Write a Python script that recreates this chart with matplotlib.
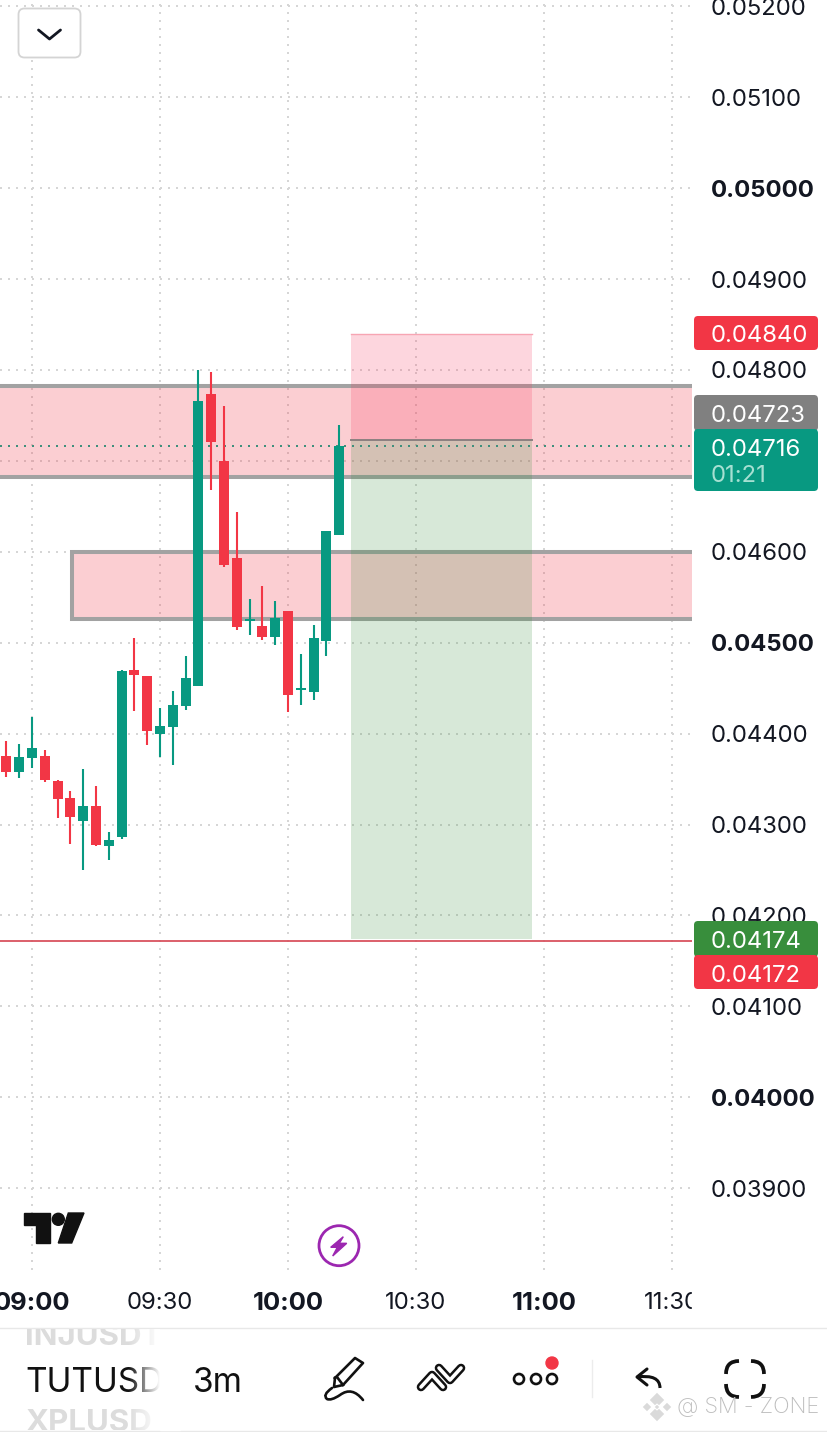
import numpy as np
import matplotlib
matplotlib.use("Agg")
import matplotlib.pyplot as plt
from matplotlib.patches import Rectangle, FancyBboxPatch, Circle, Polygon, PathPatch
from matplotlib.path import Path

plt.rcParams['font.family'] = ['Inter', 'DejaVu Sans']

# candles, one every 3 minutes, bar 0 is 09:00
bars = list(range(-2, 25))
opens = [.04375, .04358, .04373, .04375, .04348, .04329, .04304, .04320, .04276,
         .04286, .04470, .04463, .04400, .04407, .04430, .04452, .04774, .04700,
         .04593, .04524, .04518, .04506, .04535, .04448, .04446, .04502, .04619]
highs = [.04392, .04389, .04418, .04382, .04349, .04337, .04361, .04342, .04292,
         .04470, .04505, .04463, .04428, .04447, .04485, .04800, .04798, .04760,
         .04644, .04548, .04562, .04546, .04535, .04488, .04520, .04623, .04740]
lows = [.04352, .04351, .04362, .04347, .04307, .04279, .04250, .04276, .04261,
        .04284, .04425, .04388, .04374, .04365, .04426, .04452, .04668, .04583,
        .04514, .04508, .04503, .04497, .04424, .04431, .04437, .04485, .04618]
closes = [.04358, .04374, .04384, .04349, .04328, .04308, .04320, .04277, .04283,
          .04469, .04464, .04403, .04408, .04431, .04461, .04766, .04721, .04586,
          .04517, .04526, .04506, .04527, .04442, .04450, .04505, .04623, .04716]

price_ticks = [.052, .051, .050, .049, .048, .047, .046, .045, .044, .043, .042, .041, .040, .039]
price_labels = ['0.05200', '0.05100', '0.05000', '0.04900', '0.04800', '0.04700', '0.04600',
                '0.04500', '0.04400', '0.04300', '0.04200', '0.04100', '0.04000', '0.03900']
bold_prices = ['0.05000', '0.04500', '0.04000']
time_ticks = [0, 10, 20, 30, 40, 50]
time_labels = ['09:00', '09:30', '10:00', '10:30', '11:00', '11:30']
bold_times = ['09:00', '10:00', '11:00']

# drawings on the chart
zone_upper = (.04682, .04782)
zone_lower = (.04526, .04600)
zone_lower_start = 3.1
position_bars = (24.9, 39.05)
position_target = .04840
position_entry = .04723
position_stop = .04174
stop_line = .04172
last_price = .04716

GREEN = '#089981'
RED = '#f23645'
INK = '#131722'
ICON = '#111111'
GRID = '#d6d6d6'
ZONE_EDGE = '#a2a2a2'

fig = plt.figure(figsize=(8.28, 14.32), dpi=100, facecolor='white')

ax = fig.add_axes([0, (1432 - 1270) / 1432, 692 / 828, 1270 / 1432])
ax.set_xlim(-2.5, 51.5625)
ax.set_ylim(.03810, .05207)
for s in ax.spines.values():
    s.set_visible(False)

ax.set_xticks(time_ticks, time_labels)
ax.set_yticks(price_ticks, price_labels)
ax.yaxis.tick_right()
ax.tick_params(axis='x', length=0, pad=15.5, labelsize=17.2, labelcolor=INK)
ax.tick_params(axis='y', length=0, pad=13.5, labelsize=17.2, labelcolor=INK)
for t in ax.get_xticklabels():
    if t.get_text() in bold_times:
        t.set_fontweight('bold')
        t.set_fontsize(18.4)
for t in ax.get_yticklabels():
    if t.get_text() in bold_prices:
        t.set_fontweight('bold')

ax.set_axisbelow(True)
ax.grid(True, color=GRID, lw=1.44, linestyle=(0, (1, 3)), dash_capstyle='butt')

# resistance zones, both run off the right side of the chart
for start, (lo, hi) in [(-6, zone_upper), (zone_lower_start, zone_lower)]:
    ax.add_patch(Rectangle((start, lo), 60 - start, hi - lo,
                           facecolor=RED, alpha=.24, edgecolor='none', zorder=1))
    ax.add_patch(Rectangle((start, lo), 60 - start, hi - lo,
                           fill=False, edgecolor=ZONE_EDGE, lw=2.9, zorder=1.1))

# short position tool
pos_w = position_bars[1] - position_bars[0]
ax.add_patch(Rectangle((position_bars[0], position_entry), pos_w, position_target - position_entry,
                       facecolor='#f7345a', alpha=.2, edgecolor='none', zorder=1.2))
ax.plot(position_bars, [position_target, position_target], color='#f7a5b3', lw=1, zorder=1.3)
ax.add_patch(Rectangle((position_bars[0], position_stop), pos_w, position_entry - position_stop,
                       facecolor='#388e3c', alpha=.2, edgecolor='none', zorder=1.2))
ax.plot(position_bars, [position_entry, position_entry], color='#8c8080', lw=1.4, zorder=1.3)

ax.axhline(stop_line, color='#d9535f', lw=1.3, zorder=1.4)
ax.axhline(last_price, color='#3f8f7c', lw=1.44, linestyle=(0, (1, 3)), zorder=1.4)

# candles
for i, o, h, l, c in zip(bars, opens, highs, lows, closes):
    col = GREEN if c >= o else RED
    ax.plot([i, i], [l, h], color=col, lw=1.5, solid_capstyle='butt', zorder=3)
    ax.bar(i, max(abs(c - o), .00002), bottom=min(o, c), width=.78, color=col, zorder=3)

# everything else is screen furniture, in pixels
ov = fig.add_axes([0, 0, 1, 1])
ov.set_xlim(0, 828)
ov.set_ylim(1432, 0)
ov.axis('off')
ov.patch.set_alpha(0)

# cut the last time label at the price scale
ov.add_patch(Rectangle((692, 1280), 30, 40, color='white', zorder=1))


def tag(y0, y1, color):
    ov.add_patch(FancyBboxPatch((694, y0), 124, y1 - y0, boxstyle='round,pad=0,rounding_size=4',
                                facecolor=color, edgecolor='none', zorder=2))


def tag_text(y, s, color='white'):
    ov.text(711, y, s, color=color, fontsize=17.2, va='center_baseline', ha='left', zorder=3)


tag(316, 350, RED)
tag_text(334, '0.04840')
tag(395, 431, '#808080')
tag_text(413, '0.04723')
tag(429, 491, GREEN)
tag_text(447, '0.04716')
tag_text(474, '01:21', '#a6e0d2')
tag(921, 957, '#388e3c')
tag_text(939, '0.04174')
tag(955, 989, RED)
tag_text(973, '0.04172')

# collapse button
ov.add_patch(FancyBboxPatch((18.5, 8.5), 62, 49, boxstyle='round,pad=0,rounding_size=6',
                            facecolor='white', edgecolor='#d4d4d4', lw=1.3, zorder=2))
ov.plot([38.5, 49.5, 60.5], [30, 39, 30], color=INK, lw=2, solid_capstyle='round', zorder=3)

# logo
ov.add_patch(Polygon([(24, 1213), (50, 1213), (50, 1243), (36, 1243), (36, 1225), (24, 1225)], color=ICON))
ov.add_patch(Circle((58.3, 1219.3), 6, color=ICON))
ov.add_patch(Polygon([(68.3, 1213), (84, 1213), (71.7, 1243), (58.3, 1243)], color=ICON))

# lightning marker
ov.add_patch(Circle((339, 1245.7), 20, facecolor='white', edgecolor='#9c27b0', lw=2))
ov.add_patch(Polygon([(343.3, 1236.7), (330.7, 1247.3), (337.3, 1247.3), (332.7, 1256),
                      (346.7, 1243.3), (339.3, 1243.3)], color='#9c27b0'))

# bottom bar, symbol wheel is clipped to its window
ov.plot([0, 828], [1328, 1328], color='#e8e8e8', lw=1)
ov.plot([0, 828], [1431, 1431], color='#e8e8e8', lw=1)

wheel = Rectangle((0, 1329), 165, 101, transform=ov.transData)
t = ov.text(25, 1337, 'INJUSDT', color='#dcdcdc', fontsize=22.5, fontweight='bold', va='center',
            clip_on=True)
t.set_clip_path(wheel)
t = ov.text(25, 1423, 'XPLUSD', color='#dcdcdc', fontsize=22.5, fontweight='bold', va='center',
            clip_on=True)
t.set_clip_path(wheel)
ov.text(25, 1380, 'TUTUSD', color=ICON, fontsize=24, va='center_baseline')
ov.text(193, 1380, '3m', color=ICON, fontsize=24, va='center_baseline')

fade = np.ones((1, 60, 4))
fade[0, :, 3] = np.linspace(0, 1, 60)
ov.imshow(fade, extent=(128, 160, 1430, 1329.5), aspect='auto', zorder=5)
ov.add_patch(Rectangle((160, 1329.5), 20, 100.5, color='white', zorder=5))
ov.set_xlim(0, 828)
ov.set_ylim(1432, 0)

# pen
pen = [(335, 1378), (355, 1358), (363, 1363), (343, 1385), (334, 1387), (335, 1378)]
ov.plot(*zip(*pen), color=ICON, lw=1.9, solid_joinstyle='round')
ov.plot([337, 343], [1377, 1385], color=ICON, lw=1.9)
sq = Path([(332, 1388), (322, 1395), (327, 1399), (331, 1401), (340, 1395), (352, 1386), (363, 1400)],
          [Path.MOVETO, Path.CURVE3, Path.CURVE3, Path.CURVE3, Path.CURVE3, Path.CURVE3, Path.CURVE3])
ov.add_patch(PathPatch(sq, fill=False, edgecolor=ICON, lw=1.9, capstyle='round'))

# trend lines icon, two hollow chevrons
for chev in ([(421, 1387), (432, 1375), (443, 1387)], [(439, 1368), (450, 1380), (461, 1368)]):
    ov.plot(*zip(*chev), color=ICON, lw=6.2, solid_capstyle='round', solid_joinstyle='round')
    ov.plot(*zip(*chev), color='white', lw=2.6, solid_capstyle='round', solid_joinstyle='round')

# more menu
for x in (519, 536, 552):
    ov.add_patch(Circle((x, 1379), 5, facecolor='white', edgecolor=ICON, lw=1.9))
ov.add_patch(Circle((552, 1363), 6, color=RED))
ov.plot([592, 592], [1360, 1397], color='#ececec', lw=1)

# undo
un = Path([(637, 1377), (660, 1374), (660, 1388)], [Path.MOVETO, Path.CURVE3, Path.CURVE3])
ov.add_patch(PathPatch(un, fill=False, edgecolor=ICON, lw=2.2, capstyle='butt'))
ov.plot([647, 637, 647], [1369, 1377, 1385], color=ICON, lw=2.2, solid_capstyle='round',
        solid_joinstyle='round')

# fullscreen corners
for x0, y0, dx, dy in [(726, 1361, 1, 1), (764, 1361, -1, 1), (726, 1397, 1, -1), (764, 1397, -1, -1)]:
    br = Path([(x0, y0 + dy * 13), (x0, y0), (x0 + dx * 13, y0)], [Path.MOVETO, Path.CURVE3, Path.CURVE3])
    ov.add_patch(PathPatch(br, fill=False, edgecolor=ICON, lw=2.7, capstyle='butt', zorder=2))

# watermark
WM = '#dadada'
for cx, cy, r in [(657, 1400, 8), (657, 1414, 8), (647, 1407, 5), (667, 1407, 5), (657, 1407, 3)]:
    ov.add_patch(Polygon([(cx, cy - r), (cx + r, cy), (cx, cy + r), (cx - r, cy)], facecolor=WM,
                         edgecolor='white', lw=.8, zorder=4))
ov.text(677, 1407, '@ SM - ZONE', color='#bdbdbd', fontsize=15.8, va='center', zorder=4,
        fontweight='light')

fig.savefig('out.png', dpi=100)
